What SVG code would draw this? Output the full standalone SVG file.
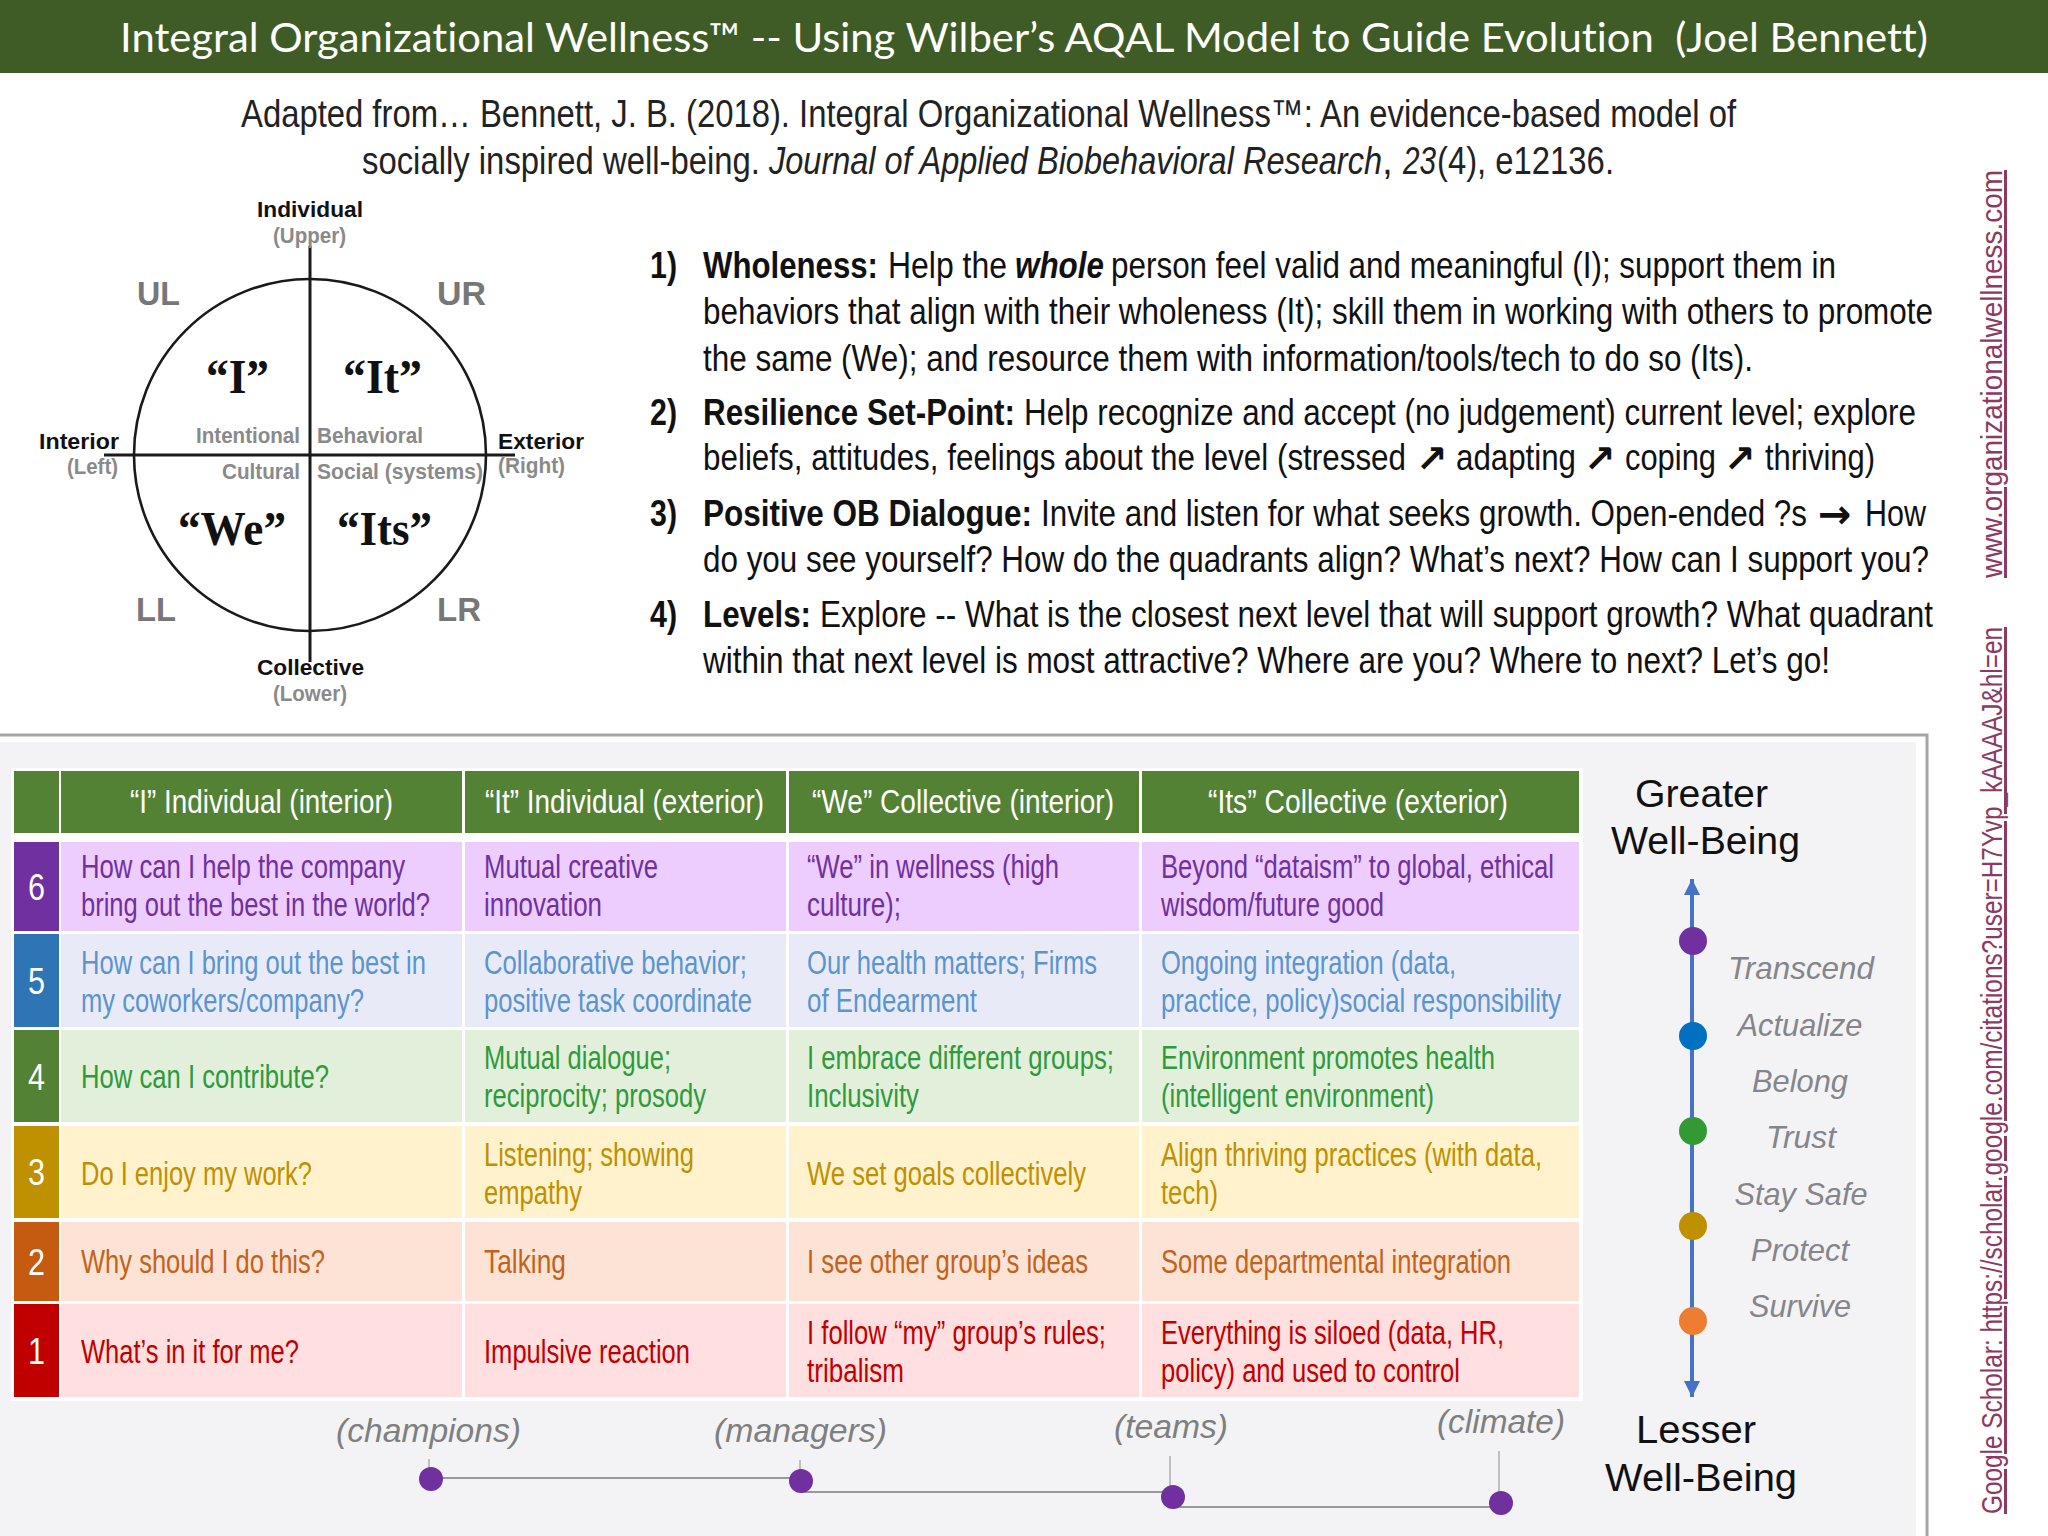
<svg xmlns="http://www.w3.org/2000/svg" width="2048" height="1536" viewBox="0 0 2048 1536">
<defs>
<marker id="arrow" viewBox="0 0 16 16" refX="16" refY="8" markerWidth="16" markerHeight="16" markerUnits="userSpaceOnUse" orient="auto-start-reverse"><path d="M0 0L16 8L0 16Z" fill="#4472c4"/></marker>
</defs>
<style>
text{font-family:"Liberation Sans",Arial,sans-serif;white-space:pre}
.title{font-family:Lato,"Open Sans",sans-serif;font-size:40px;fill:#fff;font-variant-ligatures:none}
.sub{font-size:39px;fill:#222}
.li{font-size:36px;fill:#111}
.ar{font-family:"DejaVu Sans",sans-serif;font-weight:700;font-size:38px;fill:#111}
.ar2{font-family:"DejaVu Sans",sans-serif;font-weight:700;font-size:40px;fill:#111}
.b{font-weight:700}
.i{font-style:italic}
.c{font-size:33px}
.h{font-size:34px;fill:#fff}
.n{font-size:36px;fill:#fff;text-anchor:middle}
.r6{fill:#7030a0}.r5{fill:#5b94cf}.r4{fill:#2f9a3c}.r3{fill:#bf9000}.r2{fill:#c4621a}.r1{fill:#c00000}
.q{font-weight:700;fill:#111;font-size:22px}
.qg{font-weight:700;fill:#8a8a8a;font-size:22px}
.qc{font-weight:700;fill:#777;font-size:34px}
.t{font-family:"Liberation Serif",serif;font-weight:700;fill:#111;font-size:49px}
.lv{font-style:italic;fill:#85858a;font-size:32px;text-anchor:middle}
.wb{font-size:39px;fill:#111}
.wk{font-style:italic;fill:#7f7f7f;font-size:34px}
.url{font-size:30px;fill:#8e3a60;text-decoration:underline}
.hd{fill:#548235}
.conn{stroke:#999;stroke-width:2.2;fill:none}
.thin{stroke:#8c8c8c;stroke-width:1;fill:none}
.dot{fill:#7030a0}
</style>
<rect width="2048" height="1536" fill="#fff"/>
<g id="title-bar"><rect width="2048" height="73" fill="#3f5c26"/>
<text class="title" x="120" y="52" textLength="1808" lengthAdjust="spacingAndGlyphs">Integral Organizational Wellness™ -- Using Wilber’s AQAL Model to Guide Evolution  (Joel Bennett)</text></g>
<g id="citation">
<text class="sub" x="241" y="127" textLength="1495" lengthAdjust="spacingAndGlyphs">Adapted from… Bennett, J. B. (2018). Integral Organizational Wellness™: An evidence-based model of</text>
<text class="sub" x="362" y="174" textLength="398" lengthAdjust="spacingAndGlyphs">socially inspired well-being.</text>
<text class="sub i" x="769" y="174" textLength="613" lengthAdjust="spacingAndGlyphs">Journal of Applied Biobehavioral Research</text>
<text class="sub" x="1382" y="174">,</text>
<text class="sub i" x="1403" y="174" textLength="33" lengthAdjust="spacingAndGlyphs">23</text>
<text class="sub" x="1437" y="174" textLength="177" lengthAdjust="spacingAndGlyphs">(4), e12136.</text>
</g>
<g id="quadrants">
<g id="quadrant-axes" fill="none" stroke="#1a1a1a"><circle cx="310" cy="455" r="176" stroke-width="2.6"/><path d="M310 246V662M104 455H515" stroke-width="3"/></g>
<text class="q" x="257" y="217" textLength="106" lengthAdjust="spacingAndGlyphs">Individual</text>
<text class="qg" x="273" y="243" textLength="73" lengthAdjust="spacingAndGlyphs">(Upper)</text>
<text class="qc" x="137" y="305" textLength="43" lengthAdjust="spacingAndGlyphs">UL</text>
<text class="qc" x="437" y="305" textLength="49" lengthAdjust="spacingAndGlyphs">UR</text>
<text class="qc" x="136" y="621" textLength="40" lengthAdjust="spacingAndGlyphs">LL</text>
<text class="qc" x="437" y="621" textLength="44" lengthAdjust="spacingAndGlyphs">LR</text>
<text class="t" x="206" y="393" textLength="63" lengthAdjust="spacingAndGlyphs">“I”</text>
<text class="t" x="343" y="393" textLength="79" lengthAdjust="spacingAndGlyphs">“It”</text>
<text class="t" x="178" y="545" textLength="108" lengthAdjust="spacingAndGlyphs">“We”</text>
<text class="t" x="337" y="545" textLength="95" lengthAdjust="spacingAndGlyphs">“Its”</text>
<text class="qg" x="196" y="443" textLength="104" lengthAdjust="spacingAndGlyphs">Intentional</text>
<text class="qg" x="317" y="443" textLength="106" lengthAdjust="spacingAndGlyphs">Behavioral</text>
<text class="qg" x="222" y="479" textLength="78" lengthAdjust="spacingAndGlyphs">Cultural</text>
<text class="qg" x="317" y="479" textLength="166" lengthAdjust="spacingAndGlyphs">Social (systems)</text>
<text class="q" x="39" y="449" textLength="80" lengthAdjust="spacingAndGlyphs">Interior</text>
<text class="qg" x="67" y="474" textLength="51" lengthAdjust="spacingAndGlyphs">(Left)</text>
<text class="q" x="498" y="449" textLength="86" lengthAdjust="spacingAndGlyphs">Exterior</text>
<text class="qg" x="498" y="473" textLength="67" lengthAdjust="spacingAndGlyphs">(Right)</text>
<text class="q" x="257" y="675" textLength="107" lengthAdjust="spacingAndGlyphs">Collective</text>
<text class="qg" x="273" y="701" textLength="74" lengthAdjust="spacingAndGlyphs">(Lower)</text>
</g>
<g id="principles">
<text class="li b" x="650" y="278" textLength="27" lengthAdjust="spacingAndGlyphs">1)</text>
<text class="li b" x="703" y="278" textLength="175" lengthAdjust="spacingAndGlyphs">Wholeness:</text>
<text class="li" x="888" y="278" textLength="119" lengthAdjust="spacingAndGlyphs">Help the</text>
<text class="li b i" x="1015" y="278" textLength="89" lengthAdjust="spacingAndGlyphs">whole</text>
<text class="li" x="1111" y="278" textLength="725" lengthAdjust="spacingAndGlyphs">person feel valid and meaningful (I); support them in</text>
<text class="li" x="703" y="324" textLength="1230" lengthAdjust="spacingAndGlyphs">behaviors that align with their wholeness (It); skill them in working with others to promote</text>
<text class="li" x="703" y="371" textLength="1050" lengthAdjust="spacingAndGlyphs">the same (We); and resource them with information/tools/tech to do so (Its).</text>
<text class="li b" x="650" y="425" textLength="27" lengthAdjust="spacingAndGlyphs">2)</text>
<text class="li b" x="703" y="425" textLength="312" lengthAdjust="spacingAndGlyphs">Resilience Set-Point:</text>
<text class="li" x="1024" y="425" textLength="892" lengthAdjust="spacingAndGlyphs">Help recognize and accept (no judgement) current level; explore</text>
<text class="li" x="703" y="470" textLength="703" lengthAdjust="spacingAndGlyphs">beliefs, attitudes, feelings about the level (stressed</text>
<text class="ar" x="1416" y="472">↗</text>
<text class="li" x="1456" y="470" textLength="120" lengthAdjust="spacingAndGlyphs">adapting</text>
<text class="ar" x="1584" y="472">↗</text>
<text class="li" x="1625" y="470" textLength="91" lengthAdjust="spacingAndGlyphs">coping</text>
<text class="ar" x="1724" y="472">↗</text>
<text class="li" x="1765" y="470" textLength="110" lengthAdjust="spacingAndGlyphs">thriving)</text>
<text class="li b" x="650" y="526" textLength="27" lengthAdjust="spacingAndGlyphs">3)</text>
<text class="li b" x="703" y="526" textLength="329" lengthAdjust="spacingAndGlyphs">Positive OB Dialogue:</text>
<text class="li" x="1041" y="526" textLength="766" lengthAdjust="spacingAndGlyphs">Invite and listen for what seeks growth. Open-ended ?s</text>
<text class="ar2" x="1818" y="528">→</text>
<text class="li" x="1865" y="526" textLength="61" lengthAdjust="spacingAndGlyphs">How</text>
<text class="li" x="703" y="572" textLength="1226" lengthAdjust="spacingAndGlyphs">do you see yourself? How do the quadrants align? What’s next? How can I support you?</text>
<text class="li b" x="650" y="627" textLength="27" lengthAdjust="spacingAndGlyphs">4)</text>
<text class="li b" x="703" y="627" textLength="108" lengthAdjust="spacingAndGlyphs">Levels:</text>
<text class="li" x="820" y="627" textLength="1113" lengthAdjust="spacingAndGlyphs">Explore -- What is the closest next level that will support growth? What quadrant</text>
<text class="li" x="703" y="673" textLength="1127" lengthAdjust="spacingAndGlyphs">within that next level is most attractive? Where are you? Where to next? Let’s go!</text>
</g>
<g id="panel">
<path d="M0 735H1927V1536" fill="none" stroke="#a6a6a6" stroke-width="3"/>
<rect x="0" y="742" width="1916" height="794" fill="#f3f3f6"/>
</g>
<g id="table">
<rect x="11" y="768" width="1572" height="633" fill="#fff"/>
<g id="header-row">
<rect class="hd" x="14" y="771" width="45" height="62"/><rect class="hd" x="61" y="771" width="401" height="62"/><rect class="hd" x="465" y="771" width="321" height="62"/><rect class="hd" x="789" y="771" width="350" height="62"/><rect class="hd" x="1142" y="771" width="437" height="62"/>
<text class="h" x="130" y="813" textLength="263" lengthAdjust="spacingAndGlyphs">“I” Individual (interior)</text>
<text class="h" x="485" y="813" textLength="279" lengthAdjust="spacingAndGlyphs">“It” Individual (exterior)</text>
<text class="h" x="812" y="813" textLength="302" lengthAdjust="spacingAndGlyphs">“We” Collective (interior)</text>
<text class="h" x="1208" y="813" textLength="300" lengthAdjust="spacingAndGlyphs">“Its” Collective (exterior)</text>
</g>
<g id="level-6">
<rect x="14" y="842" width="45" height="89" fill="#7030a0"/><g fill="#eccdfd"><rect x="61" y="842" width="401" height="89"/><rect x="465" y="842" width="321" height="89"/><rect x="789" y="842" width="350" height="89"/><rect x="1142" y="842" width="437" height="89"/></g>
<text class="n" x="36.5" y="900" textLength="17" lengthAdjust="spacingAndGlyphs">6</text>
<g class="r6">
<text class="c" x="81" y="878" textLength="324" lengthAdjust="spacingAndGlyphs">How can I help the company</text>
<text class="c" x="81" y="916" textLength="349" lengthAdjust="spacingAndGlyphs">bring out the best in the world?</text>
<text class="c" x="484" y="878" textLength="174" lengthAdjust="spacingAndGlyphs">Mutual creative</text>
<text class="c" x="484" y="916" textLength="118" lengthAdjust="spacingAndGlyphs">innovation</text>
<text class="c" x="807" y="878" textLength="252" lengthAdjust="spacingAndGlyphs">“We” in wellness (high</text>
<text class="c" x="807" y="916" textLength="94" lengthAdjust="spacingAndGlyphs">culture);</text>
<text class="c" x="1161" y="878" textLength="393" lengthAdjust="spacingAndGlyphs">Beyond “dataism” to global, ethical</text>
<text class="c" x="1161" y="916" textLength="223" lengthAdjust="spacingAndGlyphs">wisdom/future good</text>
</g></g>
<g id="level-5">
<rect x="14" y="934" width="45" height="93" fill="#2e75b6"/><g fill="#e8ebf7"><rect x="61" y="934" width="401" height="93"/><rect x="465" y="934" width="321" height="93"/><rect x="789" y="934" width="350" height="93"/><rect x="1142" y="934" width="437" height="93"/></g>
<text class="n" x="36.5" y="994" textLength="17" lengthAdjust="spacingAndGlyphs">5</text>
<g class="r5">
<text class="c" x="81" y="974" textLength="345" lengthAdjust="spacingAndGlyphs">How can I bring out the best in</text>
<text class="c" x="81" y="1012" textLength="283" lengthAdjust="spacingAndGlyphs">my coworkers/company?</text>
<text class="c" x="484" y="974" textLength="263" lengthAdjust="spacingAndGlyphs">Collaborative behavior;</text>
<text class="c" x="484" y="1012" textLength="268" lengthAdjust="spacingAndGlyphs">positive task coordinate</text>
<text class="c" x="807" y="974" textLength="290" lengthAdjust="spacingAndGlyphs">Our health matters; Firms</text>
<text class="c" x="807" y="1012" textLength="170" lengthAdjust="spacingAndGlyphs">of Endearment</text>
<text class="c" x="1161" y="974" textLength="295" lengthAdjust="spacingAndGlyphs">Ongoing integration (data,</text>
<text class="c" x="1161" y="1012" textLength="400" lengthAdjust="spacingAndGlyphs">practice, policy)social responsibility</text>
</g></g>
<g id="level-4">
<rect x="14" y="1030" width="45" height="92" fill="#548235"/><g fill="#e2efda"><rect x="61" y="1030" width="401" height="92"/><rect x="465" y="1030" width="321" height="92"/><rect x="789" y="1030" width="350" height="92"/><rect x="1142" y="1030" width="437" height="92"/></g>
<text class="n" x="36.5" y="1090" textLength="17" lengthAdjust="spacingAndGlyphs">4</text>
<g class="r4">
<text class="c" x="81" y="1088" textLength="248" lengthAdjust="spacingAndGlyphs">How can I contribute?</text>
<text class="c" x="484" y="1069" textLength="187" lengthAdjust="spacingAndGlyphs">Mutual dialogue;</text>
<text class="c" x="484" y="1107" textLength="222" lengthAdjust="spacingAndGlyphs">reciprocity; prosody</text>
<text class="c" x="807" y="1069" textLength="307" lengthAdjust="spacingAndGlyphs">I embrace different groups;</text>
<text class="c" x="807" y="1107" textLength="112" lengthAdjust="spacingAndGlyphs">Inclusivity</text>
<text class="c" x="1161" y="1069" textLength="334" lengthAdjust="spacingAndGlyphs">Environment promotes health</text>
<text class="c" x="1161" y="1107" textLength="273" lengthAdjust="spacingAndGlyphs">(intelligent environment)</text>
</g></g>
<g id="level-3">
<rect x="14" y="1126" width="45" height="92" fill="#bf9000"/><g fill="#fff2cc"><rect x="61" y="1126" width="401" height="92"/><rect x="465" y="1126" width="321" height="92"/><rect x="789" y="1126" width="350" height="92"/><rect x="1142" y="1126" width="437" height="92"/></g>
<text class="n" x="36.5" y="1185" textLength="17" lengthAdjust="spacingAndGlyphs">3</text>
<g class="r3">
<text class="c" x="81" y="1185" textLength="231" lengthAdjust="spacingAndGlyphs">Do I enjoy my work?</text>
<text class="c" x="484" y="1166" textLength="210" lengthAdjust="spacingAndGlyphs">Listening; showing</text>
<text class="c" x="484" y="1204" textLength="98" lengthAdjust="spacingAndGlyphs">empathy</text>
<text class="c" x="807" y="1185" textLength="279" lengthAdjust="spacingAndGlyphs">We set goals collectively</text>
<text class="c" x="1161" y="1166" textLength="381" lengthAdjust="spacingAndGlyphs">Align thriving practices (with data,</text>
<text class="c" x="1161" y="1204" textLength="57" lengthAdjust="spacingAndGlyphs">tech)</text>
</g></g>
<g id="level-2">
<rect x="14" y="1222" width="45" height="79" fill="#c55a11"/><g fill="#fde3d6"><rect x="61" y="1222" width="401" height="79"/><rect x="465" y="1222" width="321" height="79"/><rect x="789" y="1222" width="350" height="79"/><rect x="1142" y="1222" width="437" height="79"/></g>
<text class="n" x="36.5" y="1275" textLength="17" lengthAdjust="spacingAndGlyphs">2</text>
<g class="r2">
<text class="c" x="81" y="1273" textLength="244" lengthAdjust="spacingAndGlyphs">Why should I do this?</text>
<text class="c" x="484" y="1273" textLength="82" lengthAdjust="spacingAndGlyphs">Talking</text>
<text class="c" x="807" y="1273" textLength="281" lengthAdjust="spacingAndGlyphs">I see other group’s ideas</text>
<text class="c" x="1161" y="1273" textLength="350" lengthAdjust="spacingAndGlyphs">Some departmental integration</text>
</g></g>
<g id="level-1">
<rect x="14" y="1304" width="45" height="93" fill="#c00000"/><g fill="#ffdfdf"><rect x="61" y="1304" width="401" height="93"/><rect x="465" y="1304" width="321" height="93"/><rect x="789" y="1304" width="350" height="93"/><rect x="1142" y="1304" width="437" height="93"/></g>
<text class="n" x="36.5" y="1364" textLength="17" lengthAdjust="spacingAndGlyphs">1</text>
<g class="r1">
<text class="c" x="81" y="1363" textLength="218" lengthAdjust="spacingAndGlyphs">What’s in it for me?</text>
<text class="c" x="484" y="1363" textLength="206" lengthAdjust="spacingAndGlyphs">Impulsive reaction</text>
<text class="c" x="807" y="1344" textLength="299" lengthAdjust="spacingAndGlyphs">I follow “my” group’s rules;</text>
<text class="c" x="807" y="1382" textLength="97" lengthAdjust="spacingAndGlyphs">tribalism</text>
<text class="c" x="1161" y="1344" textLength="343" lengthAdjust="spacingAndGlyphs">Everything is siloed (data, HR,</text>
<text class="c" x="1161" y="1382" textLength="299" lengthAdjust="spacingAndGlyphs">policy) and used to control</text>
</g></g>
</g>
<g id="connectors">
<path d="M1692 879V1397" fill="none" stroke="#4472c4" stroke-width="4" marker-start="url(#arrow)" marker-end="url(#arrow)"/>
<path class="conn" d="M432 1478H801M801 1492H1173M1173 1507H1501"/>
<path class="thin" d="M429 1459V1470M800 1460V1472M1170 1456V1488M1499 1451V1494"/>
</g>
<g id="wellbeing-scale">
<text class="wb" x="1635" y="807" textLength="133" lengthAdjust="spacingAndGlyphs">Greater</text>
<text class="wb" x="1611" y="854" textLength="189" lengthAdjust="spacingAndGlyphs">Well-Being</text>
<ellipse cx="1693" cy="941" rx="14" ry="14" fill="#7030a0"/>
<ellipse cx="1693" cy="1036" rx="14" ry="14" fill="#0070c0"/>
<ellipse cx="1693" cy="1131" rx="14" ry="14" fill="#339933"/>
<ellipse cx="1693" cy="1226" rx="14" ry="14" fill="#bf9000"/>
<ellipse cx="1693" cy="1321" rx="14" ry="14" fill="#ed7d31"/>
<text class="lv" x="1801" y="979" textLength="146" lengthAdjust="spacingAndGlyphs">Transcend</text>
<text class="lv" x="1800" y="1036" textLength="125" lengthAdjust="spacingAndGlyphs">Actualize</text>
<text class="lv" x="1800" y="1092" textLength="96" lengthAdjust="spacingAndGlyphs">Belong</text>
<text class="lv" x="1801" y="1148" textLength="70" lengthAdjust="spacingAndGlyphs">Trust</text>
<text class="lv" x="1801" y="1205" textLength="133" lengthAdjust="spacingAndGlyphs">Stay Safe</text>
<text class="lv" x="1800" y="1261" textLength="98" lengthAdjust="spacingAndGlyphs">Protect</text>
<text class="lv" x="1800" y="1317" textLength="102" lengthAdjust="spacingAndGlyphs">Survive</text>
<text class="wb" x="1636" y="1443" textLength="120" lengthAdjust="spacingAndGlyphs">Lesser</text>
<text class="wb" x="1605" y="1491" textLength="192" lengthAdjust="spacingAndGlyphs">Well-Being</text>
</g>
<g id="roles">
<text class="wk" x="336" y="1442" textLength="185" lengthAdjust="spacingAndGlyphs">(champions)</text>
<text class="wk" x="714" y="1442" textLength="173" lengthAdjust="spacingAndGlyphs">(managers)</text>
<text class="wk" x="1114" y="1438" textLength="114" lengthAdjust="spacingAndGlyphs">(teams)</text>
<text class="wk" x="1437" y="1433" textLength="128" lengthAdjust="spacingAndGlyphs">(climate)</text>
<circle class="dot" cx="431" cy="1479" r="12"/><circle class="dot" cx="801" cy="1481" r="12"/><circle class="dot" cx="1173" cy="1497" r="12"/><circle class="dot" cx="1501" cy="1503" r="12"/>
</g>
<g id="links">
<text class="url" transform="translate(2002 578) rotate(-90)" textLength="408" lengthAdjust="spacingAndGlyphs">www.organizationalwellness.com</text>
<text class="url" transform="translate(2002 1514) rotate(-90)" textLength="887" lengthAdjust="spacingAndGlyphs">Google Scholar: https://scholar.google.com/citations?user=H7Yvp_kAAAAJ&amp;hl=en</text>
</g>
</svg>
